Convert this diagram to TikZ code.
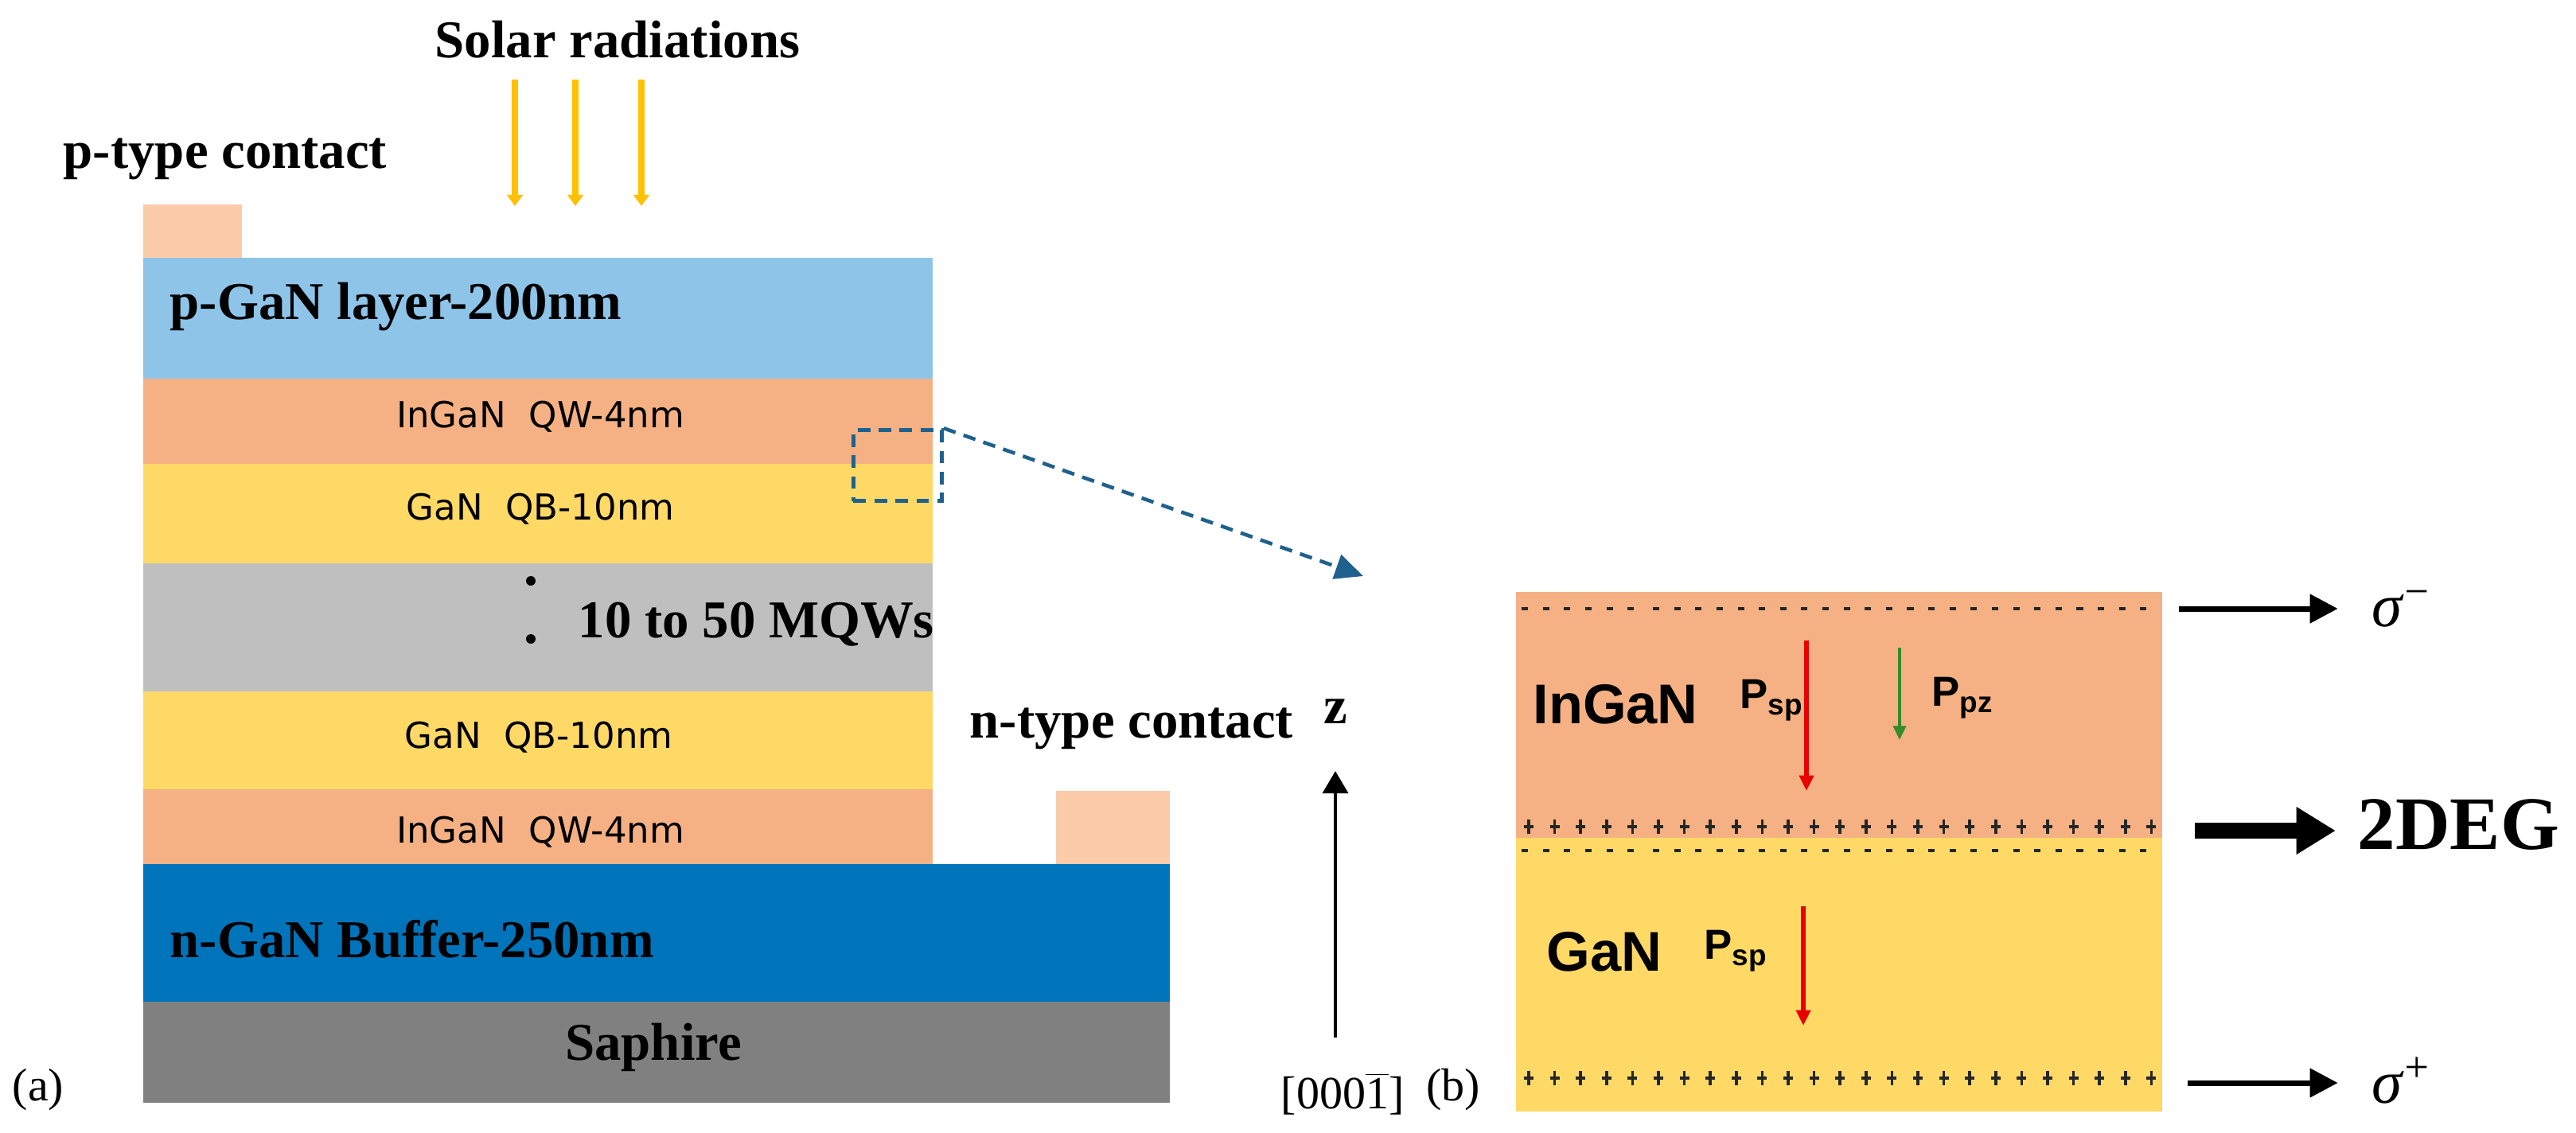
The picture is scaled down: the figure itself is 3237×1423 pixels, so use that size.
\documentclass[tikz,border=0pt]{standalone}
\usepackage{fontspec}
\setmainfont{Liberation Serif}
\newfontfamily\qwfont{DejaVu Sans}
\newfontfamily\arfont{Liberation Sans}
\usetikzlibrary{arrows.meta}
\definecolor{pcont}{RGB}{251,203,170}
\definecolor{pganc}{RGB}{142,196,232}
\definecolor{qwc}{RGB}{245,177,131}
\definecolor{qbc}{RGB}{255,217,102}
\definecolor{mqwc}{RGB}{191,191,191}
\definecolor{nganc}{RGB}{0,116,186}
\definecolor{saphc}{RGB}{128,128,128}
\definecolor{solarc}{RGB}{255,192,0}
\definecolor{dblue}{RGB}{31,97,141}
\definecolor{redc}{RGB}{230,0,0}
\definecolor{greenc}{RGB}{50,140,40}
\begin{document}
\begin{tikzpicture}[x=0.01cm,y=-0.01cm,
  lab/.style={font=\fontsize{19}{22}\selectfont\bfseries, inner sep=0},
  reg/.style={font=\fontsize{16.5}{19}\selectfont, inner sep=0},
  qw/.style={font=\qwfont\fontsize{12.8}{15}\selectfont, inner sep=0},
  rlab/.style={font=\arfont\fontsize{20}{24}\selectfont\bfseries, inner sep=0},
  plab/.style={font=\arfont\fontsize{15}{18}\selectfont\bfseries, inner sep=0, anchor=west},
  sig/.style={font=\fontsize{22}{26}\selectfont, inner sep=0, anchor=west},
  solararr/.style={draw=solarc, line width=2pt, -{Triangle[length=4pt,width=5.5pt]}},
  zarr/.style={draw=black, line width=1.4pt, -{Triangle[length=8pt,width=9pt]}},
  sarr/.style={draw=black, line width=2pt, -{Triangle[length=10pt,width=10pt]}},
  bigarr/.style={draw=black, line width=5.7pt, -{Triangle[length=14pt,width=16pt]}},
  redarr/.style={draw=redc, line width=1.6pt, -{Triangle[length=5.5pt,width=5pt]}},
  greenarr/.style={draw=greenc, line width=1.1pt, -{Triangle[length=5pt,width=4.5pt]}},
  dline/.style={draw=dblue, line width=1.3pt, dash pattern=on 4.5pt off 3pt},
  dotline/.style={draw=black!85, line width=1.2pt, dash pattern=on 2.3pt off 5.27pt},
  plusst/.style={draw=black!85, line width=1pt},
  mdot/.style={circle, fill=black, inner sep=0, minimum size=3.4pt}]
\useasboundingbox (0,0) rectangle (3237,1423);

% ---------------- panel (a): layer stack ----------------
\fill[pcont] (180,257) rectangle (304,324);
\fill[pganc] (180,324) rectangle (1172,476);
\fill[qwc]   (180,476) rectangle (1172,583);
\fill[qbc]   (180,583) rectangle (1172,708);
\fill[mqwc]  (180,708) rectangle (1172,869);
\fill[qbc]   (180,869) rectangle (1172,992);
\fill[qwc]   (180,992) rectangle (1172,1086);
\fill[pcont] (1327,994) rectangle (1470,1086);
\fill[nganc] (180,1086) rectangle (1470,1259);
\fill[saphc] (180,1259) rectangle (1470,1386);

\node[lab] (solar) at (776,50) {Solar radiations};
\coordinate (s1a) at (647,100); \coordinate (s1b) at (647,259);
\coordinate (s2a) at (723,100); \coordinate (s2b) at (723,259);
\coordinate (s3a) at (806,100); \coordinate (s3b) at (806,259);
\draw[solararr] (s1a) -- (s1b);
\draw[solararr] (s2a) -- (s2b);
\draw[solararr] (s3a) -- (s3b);

\node[lab] (ptype) at (283,200) {p-type contact};
\node[lab, anchor=west] (pgantxt) at (213,386) {p-GaN layer-200nm};
\node[qw] (qw1) at (679,524) {InGaN\ \ QW-4nm};
\node[qw] (qb1) at (679,640) {GaN\ \ QB-10nm};
\node[mdot] (dot1) at (667,730) {};
\node[mdot] (dot2) at (667,803) {};
\node[lab, anchor=west] (mqwtxt) at (726,785) {10 to 50 MQWs};
\node[qw] (qb2) at (677,927) {GaN\ \ QB-10nm};
\node[qw] (qw2) at (679,1046) {InGaN\ \ QW-4nm};
\node[lab, anchor=west] (ngantxt) at (213,1180) {n-GaN Buffer-250nm};
\node[lab] (saphtxt) at (821,1316) {Saphire};
\node[reg] (alab) at (48,1370) {(a)};
\node[lab] (ntype) at (1422,916) {n-type contact};

% zoom box and dashed connector
\node[draw=dblue, line width=1.3pt, dash pattern=on 4.5pt off 3pt, rectangle,
      inner sep=0, minimum width=1.11cm, minimum height=0.89cm] (zoombox) at (1128,585) {};
\coordinate (ztarget) at (1713,724);
\draw[dline, -{Triangle[length=10pt,width=9pt]}] (zoombox.north east) -- (ztarget);

% z axis
\node[lab] (zlab) at (1678,894) {z};
\coordinate (zbase) at (1678,1304);
\coordinate (ztip) at (1678,969);
\draw[zarr] (zbase) -- (ztip);
\node[reg] (dir) at (1687,1375) {[000$\overline{\mbox{1}}$]};
\node[reg] (blab) at (1826,1370) {(b)};

% ---------------- panel (b) ----------------
\fill[qwc] (1905,744) rectangle (2717,1053);
\fill[qbc] (1905,1053) rectangle (2717,1397);

\draw[dotline] (1912,765) -- (2057,765);
\draw[dotline] (2077,765) -- (2714,765);
\draw[dotline] (1912,1069) -- (2057,1069);
\draw[dotline] (2077,1069) -- (2714,1069);

\foreach \i in {0,...,24} {
  \draw[plusst] ({1921+\i*32.6},1039) ++(-6,0) -- ++(12,0) ++(-6,-9) -- ++(0,18);
  \draw[plusst] ({1921+\i*32.6},1355) ++(-6,0) -- ++(12,0) ++(-6,-9) -- ++(0,18);
}

\node[rlab] (ingan) at (2030,885) {InGaN};
\node[plab] (psp1) at (2186,880) {P\textsubscript{sp}};
\coordinate (r1a) at (2270,805); \coordinate (r1b) at (2270,994);
\draw[redarr] (r1a) -- (r1b);
\coordinate (g1a) at (2387,814); \coordinate (g1b) at (2387,930);
\draw[greenarr] (g1a) -- (g1b);
\node[plab] (ppz) at (2427,877) {P\textsubscript{pz}};

\node[rlab] (gan) at (2016,1196) {GaN};
\node[plab] (psp2) at (2141,1195) {P\textsubscript{sp}};
\coordinate (r2a) at (2266,1139); \coordinate (r2b) at (2266,1289);
\draw[redarr] (r2a) -- (r2b);

% right-hand arrows and labels
\node[sig] (sigm) at (2980,765) {\itshape σ\textsuperscript{−}};
\coordinate (sm0) at (2738,765);
\draw[sarr, shorten >=12pt] (sm0) -- (sm0 -| sigm.west);
\node[font=\fontsize{27}{32}\selectfont\bfseries, inner sep=0, anchor=west] (twodeg) at (2962,1036) {2DEG};
\coordinate (d0) at (2758,1044);
\draw[bigarr, shorten >=7.7pt] (d0) -- (d0 -| twodeg.west);
\node[sig] (sigp) at (2980,1358) {\itshape σ\textsuperscript{+}};
\coordinate (sp0) at (2749,1361);
\draw[sarr, shorten >=12pt] (sp0) -- (sp0 -| sigp.west);
\end{tikzpicture}
\end{document}
